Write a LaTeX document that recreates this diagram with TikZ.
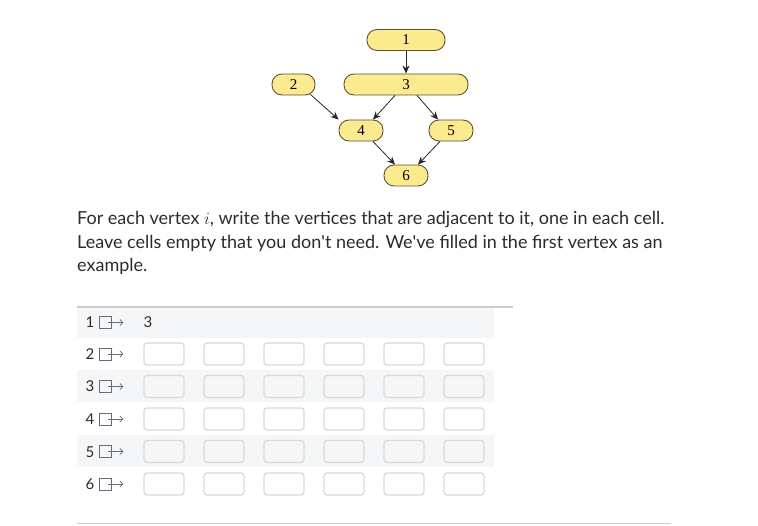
\documentclass[tikz,border=0pt]{standalone}
\usepackage{fontspec}
\setmainfont{Lato}
\newfontfamily\graphfont{Liberation Serif}
\usetikzlibrary{arrows.meta}
\definecolor{nodefill}{HTML}{FCEA8E}
\definecolor{nodedraw}{HTML}{5A5236}
\definecolor{rowshade}{HTML}{F5F6F8}
\definecolor{rulegray}{HTML}{CCCCCC}
\definecolor{cellgray}{HTML}{D9D9D9}
\definecolor{icongray}{HTML}{6A6A7A}
\definecolor{textdark}{HTML}{2B2B2B}
\tikzset{
  vtx/.style={draw=nodedraw, fill=nodefill, line width=0.9pt, rounded corners=10pt,
    minimum height=21pt, inner sep=0pt, font=\graphfont\fontsize{15}{15}\selectfont},
  edge/.style={-{Stealth[length=8pt,width=7pt]}, line width=0.8pt, draw=black!85},
  cellbox/.style={draw=cellgray, line width=1.2pt, rounded corners=3pt, minimum width=40pt,
    minimum height=22pt, inner sep=0pt},
  para/.style={anchor=base west, inner sep=0pt, text=textdark, font=\fontsize{18}{18}\selectfont},
  rowlab/.style={anchor=base, inner sep=0pt, text=textdark, font=\fontsize{15}{15}\selectfont},
  iconbox/.style={draw=icongray, line width=0.8pt, minimum width=12pt, minimum height=12pt, inner sep=0pt},
  iconarrow/.style={-{Straight Barb[length=3pt,width=6pt]}, draw=icongray, line width=0.8pt}
}
\begin{document}
\begin{tikzpicture}[x=1pt,y=-1pt]
\useasboundingbox (0,0) rectangle (758,526);
% graph
\node[vtx, minimum width=78pt] (n1) at (406,40) {1};
\node[vtx, minimum width=124pt] (n3) at (406,84.5) {3};
\node[vtx, minimum width=43pt] (n2) at (293.5,84.5) {2};
\node[vtx, minimum width=44pt] (n4) at (361,130.5) {4};
\node[vtx, minimum width=44pt] (n5) at (451,130.5) {5};
\node[vtx, minimum width=44pt] (n6) at (406,175.5) {6};
\draw[edge] (n1) -- (n3);
\draw[edge] (n2.south east) ++(-5,-1) coordinate (a2) (a2) -- (n4.north west);
\draw[edge] (n3.south) ++(-11,0) coordinate (a3) (a3) -- ([xshift=12pt]n4.north);
\draw[edge] (n3.south) ++(11,0) coordinate (b3) (b3) -- ([xshift=-13pt]n5.north);
\draw[edge] ([xshift=12pt]n4.south) -- ([xshift=-11pt]n6.north);
\draw[edge] ([xshift=-11pt]n5.south) -- ([xshift=12pt]n6.north);
% paragraph
\node[para] (p1) at (77,225) {For each vertex $i$, write the vertices that are adjacent to it, one in each cell.};
\node[para] (p2) at (77,249) {Leave cells empty that you don\textquotesingle t need. We\textquotesingle ve filled in the first vertex as an};
\node[para] (p3) at (77,272) {example.};
% table
\foreach \r/\yc in {1/322.5,3/386.5,5/451.5}{
  \fill[rowshade] (77,\yc-16) rectangle (494,\yc+16);
}
\draw[rulegray, line width=2pt] (77,307) -- (513,307);
\draw[rulegray, line width=1pt] (77,523) -- (671,523);
\foreach \r/\yc in {1/322.5,2/354,3/386.5,4/419,5/451.5,6/484}{
  \node[rowlab] (lab\r) at (90,\yc+5.5) {\r};
  \node[iconbox] (ib\r) at (105,\yc) {};
  \draw[iconarrow] ([xshift=-3pt]ib\r.east) -- ++(15,0) coordinate (ie\r);
}
\node[rowlab] (v13) at (148,328) {3};
\foreach \r/\yc in {2/354,3/386.5,4/419,5/451.5,6/484}{
  \foreach \c/\xc in {1/164,2/224,3/284,4/344,5/404,6/464}{
    \node[cellbox] (c\r\c) at (\xc,\yc) {};
  }
}
\end{tikzpicture}
\end{document}
